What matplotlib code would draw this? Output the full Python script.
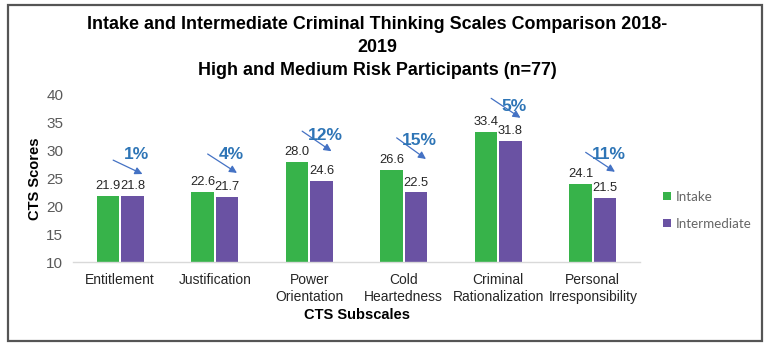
import matplotlib
matplotlib.use("Agg")
import matplotlib.pyplot as plt
import numpy as np
from matplotlib.patches import Rectangle

categories = ["Entitlement", "Justification", "Power\nOrientation", "Cold\nHeartedness",
              "Criminal\nRationalization", "Personal\nIrresponsibility"]
intake = [21.9, 22.6, 28.0, 26.6, 33.4, 24.1]
intermediate = [21.8, 21.7, 24.6, 22.5, 31.8, 21.5]
pct_labels = ["1%", "4%", "12%", "15%", "5%", "11%"]

# annotation positions (style/position, not data): arrow start/end y, text y
arrow_y0 = [28.3, 29.4, 33.5, 32.3, 39.4, 29.7]
arrow_y1 = [25.8, 26.0, 29.9, 28.5, 35.9, 26.2]
text_y = [29.4, 29.4, 32.8, 31.9, 38.0, 29.4]

regular = ["Liberation Sans", "DejaVu Sans"]

fig = plt.figure(figsize=(7.68, 3.53), dpi=100)
fig.patch.set_facecolor("white")
fig.add_artist(Rectangle((8/768, 1-341/353), 754/768, 336/353, transform=fig.transFigure,
                         fill=False, edgecolor="#555555", linewidth=1.6))

ax = fig.add_axes([73/768, 1-262/353, 567/768, 167/353])
x = np.arange(len(categories))
w = 0.235
g = 0.012
green = "#37B34A"
purple = "#6A52A3"
ax.bar(x - w/2 - g, intake, width=w, color=green, label="Intake", zorder=2)
ax.bar(x + w/2 + g, intermediate, width=w, color=purple, label="Intermediate", zorder=2)

for i in range(len(categories)):
    ax.text(x[i] - w/2 - g, intake[i] + 0.7, f"{intake[i]:.1f}", ha="center", va="bottom",
            fontsize=9.3, color="#262626", family=regular)
    ax.text(x[i] + w/2 + g, intermediate[i] + 0.7, f"{intermediate[i]:.1f}", ha="center", va="bottom",
            fontsize=9.3, color="#262626", family=regular)
    ax.annotate("", xy=(x[i] + 0.235, arrow_y1[i]), xytext=(x[i] - 0.075, arrow_y0[i]),
                arrowprops=dict(arrowstyle="-|>", color="#4472C4", lw=0.9,
                                mutation_scale=11, shrinkA=0, shrinkB=0))
    ax.text(x[i] + 0.17, text_y[i], pct_labels[i], ha="center", va="center",
            fontsize=12.5, fontweight="bold", color="#2E75B6", family=regular)

ax.set_xlim(-0.5, len(categories) - 0.5)
ax.set_ylim(10, 40)
ax.set_yticks([10, 15, 20, 25, 30, 35, 40])
ax.set_xticks(x)
ax.set_xticklabels(categories, family=regular, fontsize=10, color="#262626", linespacing=1.25)
for lab in ax.get_yticklabels():
    lab.set_family(regular)
    lab.set_fontsize(11)
    lab.set_color("#595959")
ax.tick_params(axis="both", length=0)
ax.tick_params(axis="y", pad=7)
ax.tick_params(axis="x", pad=8)
for s in ["top", "right", "left"]:
    ax.spines[s].set_visible(False)
ax.spines["bottom"].set_color("#D9D9D9")
ax.spines["bottom"].set_linewidth(1.0)

ax.set_ylabel("CTS Scores", fontsize=10.5, fontweight="bold", family=regular, color="#000000", labelpad=3)
ax.set_xlabel("CTS Subscales", fontsize=10.5, fontweight="bold", family=regular, color="#000000", labelpad=3)

fig.text(377/768, 1-16/353, "Intake and Intermediate Criminal Thinking Scales Comparison 2018-\n2019\nHigh and Medium Risk Participants (n=77)",
         ha="center", va="top", fontsize=12.9, fontweight="bold", family=regular, linespacing=1.45)

leg = ax.legend(loc="center left", bbox_to_anchor=(1.02, 0.31), frameon=False,
                prop={"family": ["Lato", "DejaVu Sans"], "size": 9.6},
                handlelength=0.6, handleheight=0.6, handletextpad=0.3, labelspacing=1.1)
for t in leg.get_texts():
    t.set_color("#666666")

fig.savefig("out.png", dpi=100)
